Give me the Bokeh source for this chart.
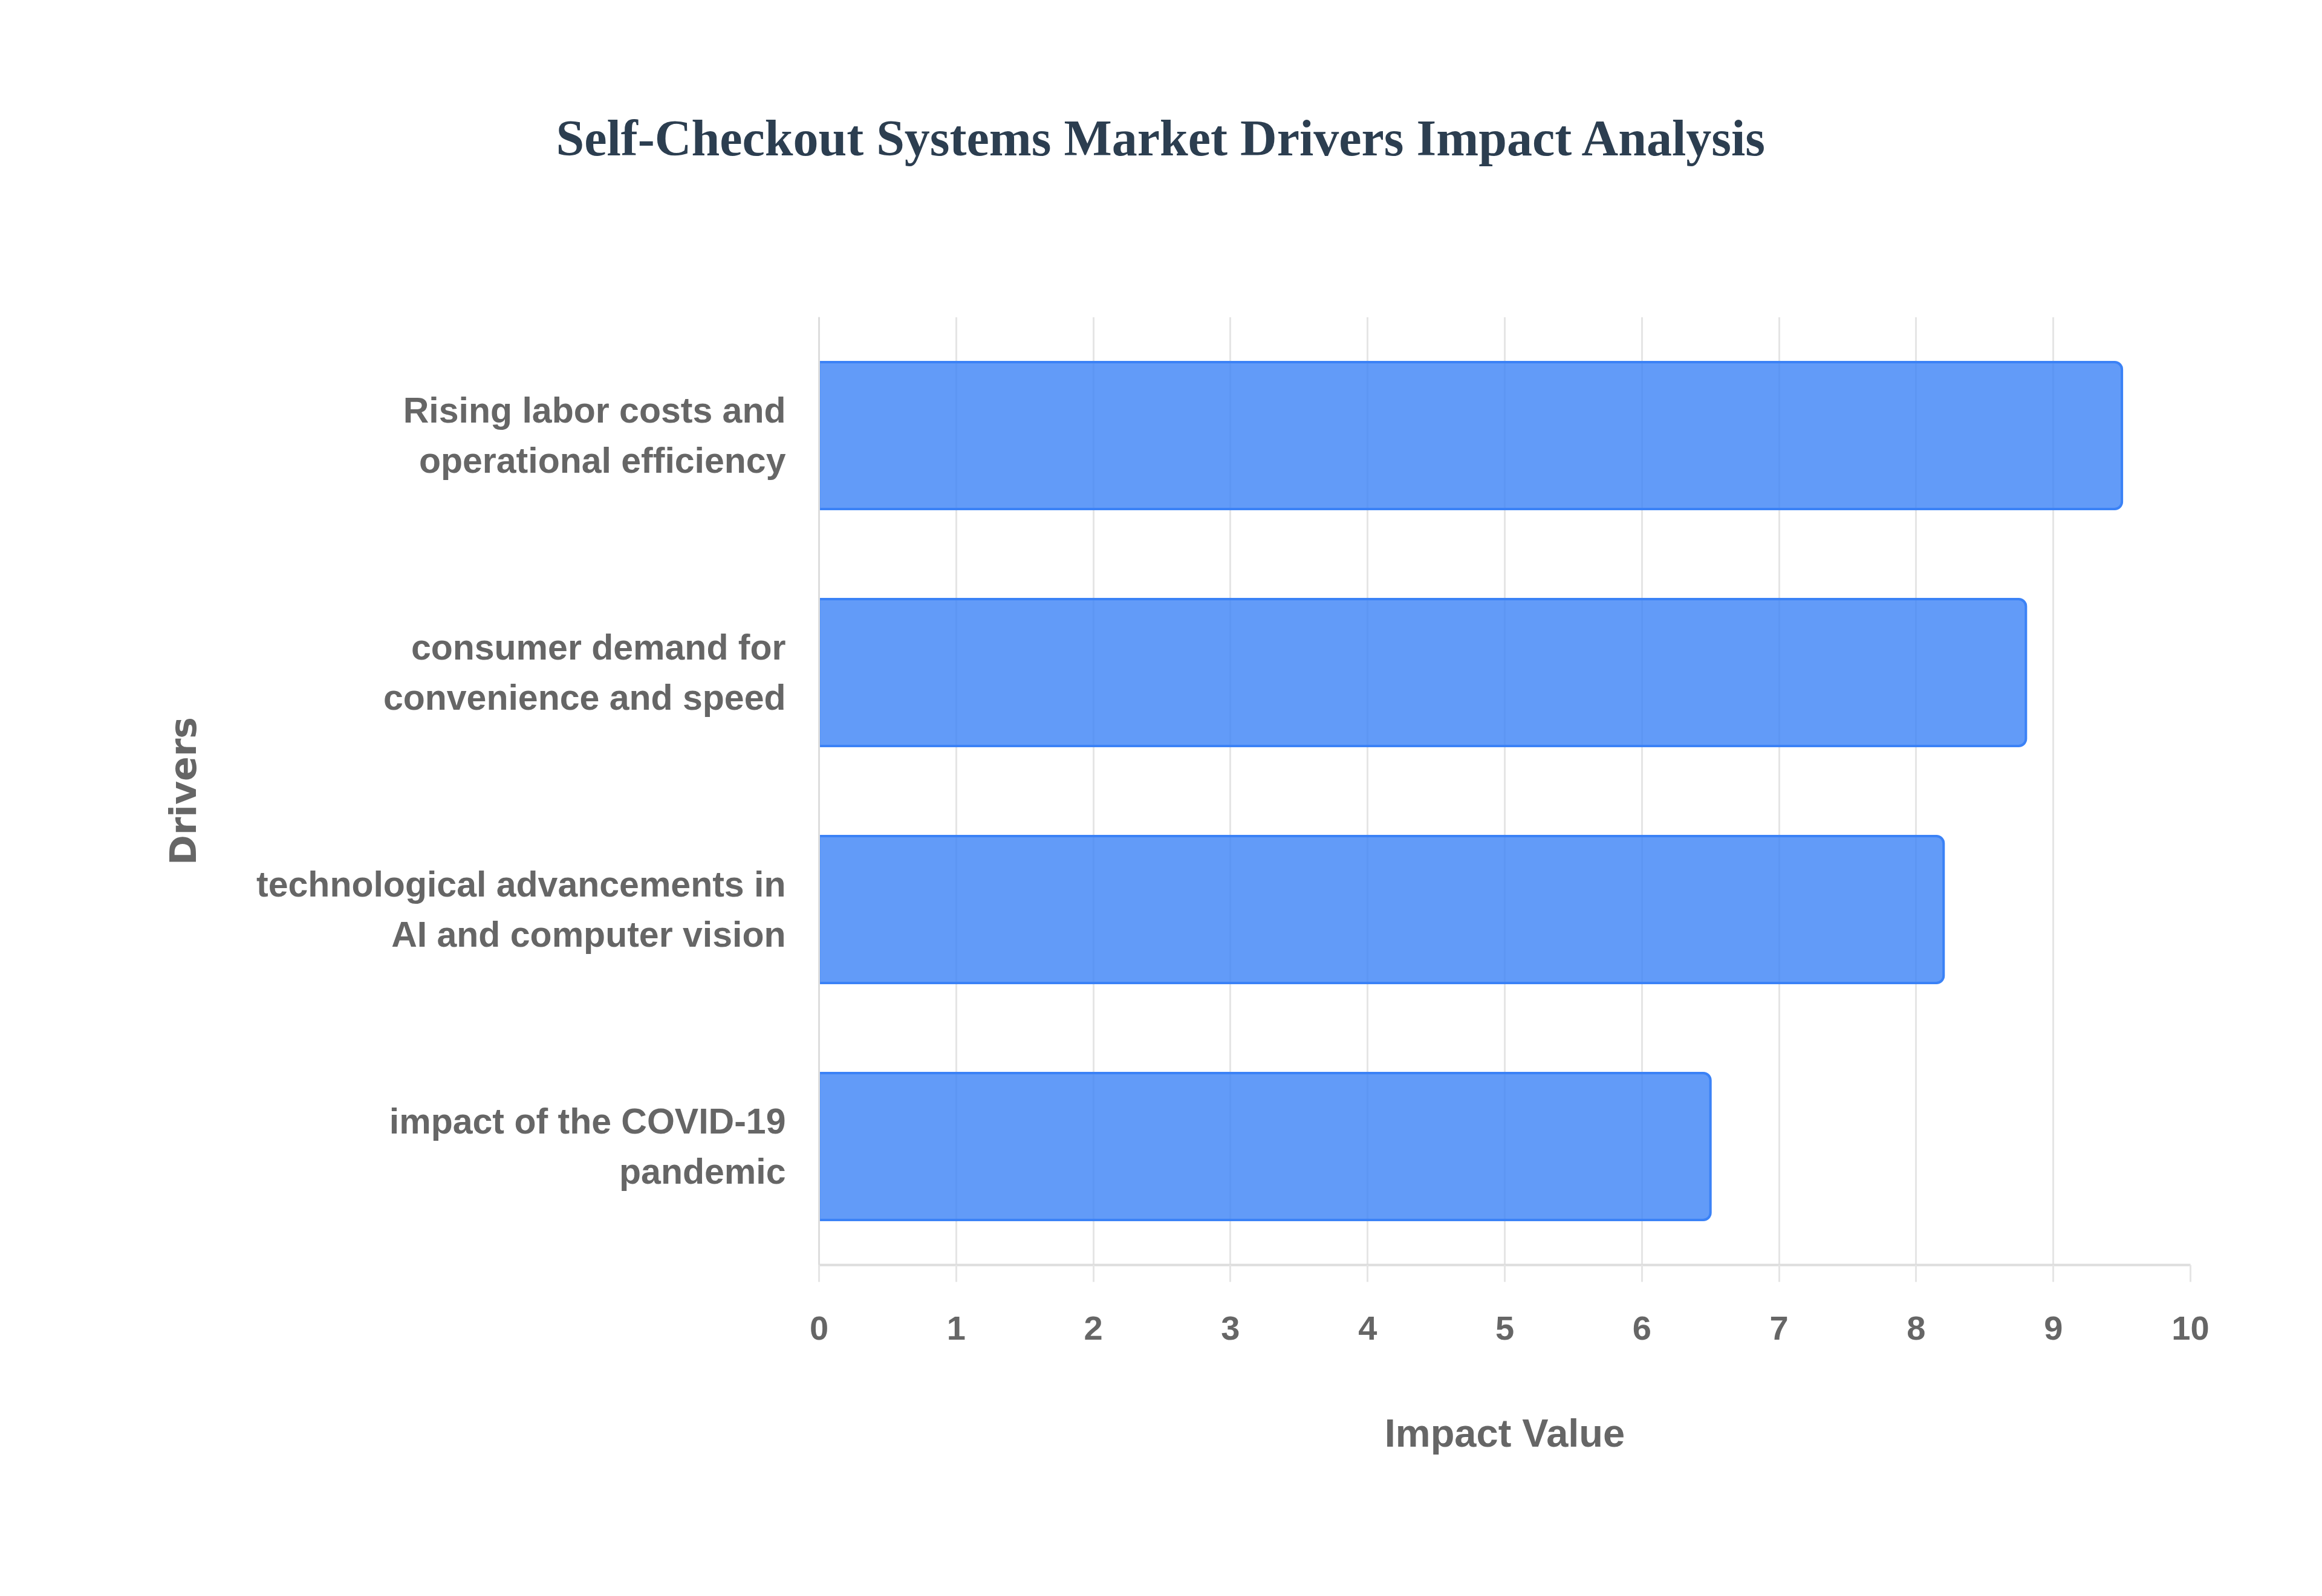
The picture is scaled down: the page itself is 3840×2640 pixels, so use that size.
from bokeh.plotting import figure
from bokeh.models import ColumnDataSource, FactorRange, Range1d, FixedTicker, Title
from bokeh.embed import file_html
from bokeh.resources import INLINE

# ---- data ----
drivers = [
    "Rising labor costs and\noperational efficiency",
    "consumer demand for\nconvenience and speed",
    "technological advancements in\nAI and computer vision",
    "impact of the COVID-19\npandemic",
]
impact = [9.5, 8.8, 8.2, 6.5]
x_ticks = [0, 1, 2, 3, 4, 5, 6, 7, 8, 9, 10]
title_text = "Self-Checkout Systems Market Drivers Impact Analysis"

src = ColumnDataSource(dict(driver=drivers, impact=impact))

W, H = 3820, 2620
p = figure(
    width=W, height=H,
    y_range=FactorRange(factors=list(reversed(drivers)), range_padding=0),
    x_range=Range1d(0, 10),
    output_backend="svg", toolbar_location=None,
    min_border_left=1354, min_border_right=198,
    min_border_top=524, min_border_bottom=528,
    title=None,
)
p.outline_line_color = None
p.background_fill_color = "white"
p.border_fill_color = "white"

p.hbar(y="driver", left=0, right="impact", height=0.62, source=src,
       fill_color="#3B82F6", fill_alpha=0.8,
       line_color="#3B82F6", line_width=4,
       border_radius=(0, 12, 12, 0))

# grids
p.ygrid.grid_line_color = None
p.xgrid.grid_line_color = "#e5e5e5"
p.xgrid.grid_line_width = 3

# x axis
xa = p.xaxis[0]
xa.ticker = FixedTicker(ticks=x_ticks)
xa.axis_line_color = "#dddddd"
xa.axis_line_width = 4
xa.major_tick_out = 28
xa.major_tick_in = 0
xa.major_tick_line_color = "#e5e5e5"
xa.major_tick_line_width = 3
xa.minor_tick_line_color = None
xa.major_label_text_font = "Liberation Sans"
xa.major_label_text_font_style = "bold"
xa.major_label_text_font_size = "56px"
xa.major_label_text_color = "#666666"
xa.major_label_standoff = 57
xa.axis_label = "Impact Value"
xa.axis_label_text_font = "Liberation Sans"
xa.axis_label_text_font_style = "bold"
xa.axis_label_text_font_size = "65px"
xa.axis_label_text_color = "#666666"
xa.axis_label_standoff = 115

# y axis
ya = p.yaxis[0]
ya.axis_line_color = "#dddddd"
ya.axis_line_width = 3
ya.major_tick_out = 0
ya.major_tick_in = 0
ya.minor_tick_line_color = None
ya.major_label_text_font = "Liberation Sans"
ya.major_label_text_font_style = "bold"
ya.major_label_text_font_size = "59px"
ya.major_label_text_color = "#666666"
ya.major_label_text_line_height = 1.25
ya.major_label_standoff = 55
ya.axis_label = "Drivers"
ya.axis_label_text_font = "DejaVu Sans"
ya.axis_label_text_font_style = "bold"
ya.axis_label_text_font_size = "60px"
ya.axis_label_text_color = "#666666"
ya.axis_label_standoff = 83

# spacer panel between the frame and the title
spacer = Title(text=" ", standoff=247, text_font_size="1px")
p.add_layout(spacer, "above")

# title, centred on the whole canvas (frame starts at 1354px)
t = Title(text=title_text, align="left", offset=-435, standoff=0,
          text_font="Liberation Serif", text_font_style="bold",
          text_font_size="84px", text_color="#2c3e50")
p.add_layout(t, "above")

open("out.html", "w").write(file_html(p, INLINE))
